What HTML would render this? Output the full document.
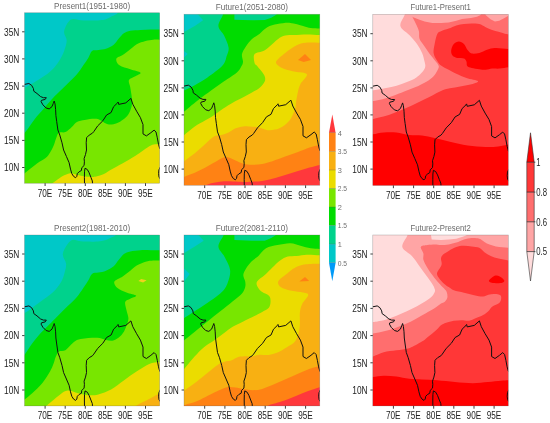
<!DOCTYPE html>
<html lang="en"><head><meta charset="utf-8"><title>Temperature change maps</title>
<style>
html,body{margin:0;padding:0;background:#fff;}
body{width:550px;height:423px;overflow:hidden;}
svg{display:block;}
text{font-family:"Liberation Sans",sans-serif;}
.t{font-size:10.4px;fill:#222;}
.x{font-size:11.3px;}
.h{font-size:9px;fill:#6a6a6a;}
.s{font-size:7.4px;fill:#707070;}
.r{font-size:10.2px;fill:#222;}
</style></head><body>
<svg width="550" height="423" viewBox="0 0 550 423">
<defs><clipPath id="c1"><rect x="22.0" y="10.0" width="140.0" height="175.0"/></clipPath><clipPath id="c2"><rect x="182.0" y="12.0" width="140.0" height="176.0"/></clipPath><clipPath id="c3"><rect x="370.0" y="12.0" width="140.0" height="176.0"/></clipPath><clipPath id="c4"><rect x="22.0" y="233.0" width="140.0" height="175.0"/></clipPath><clipPath id="c5"><rect x="182.0" y="233.0" width="140.0" height="175.0"/></clipPath><clipPath id="c6"><rect x="370.0" y="233.0" width="140.0" height="175.0"/></clipPath></defs>
<rect width="550" height="423" fill="#fff"/>
<g clip-path="url(#c1)">
<rect x="23.5" y="11.8" width="137.2" height="172.4" fill="#00c8c8"/>
<path d="M118.5,8.0C118.3,8.9 118.5,12.0 117.5,13.3C116.5,14.7 114.3,15.1 112.4,16.1C110.5,17.1 108.1,18.6 106.0,19.3C103.9,20.0 102.0,20.0 99.7,20.2C97.4,20.4 95.2,20.6 92.0,20.6C88.8,20.6 84.3,20.4 80.7,20.2C77.1,20.0 73.3,17.8 70.5,19.7C67.7,21.6 64.7,27.9 64.1,31.4C63.5,34.9 66.7,37.1 66.7,40.4C66.7,43.6 65.2,47.8 64.1,50.9C63.0,54.0 62.0,56.1 60.3,58.9C58.6,61.7 56.4,65.1 53.9,67.9C51.4,70.7 48.0,73.3 45.0,75.5C42.0,77.7 38.8,79.6 36.0,81.3C33.2,83.0 30.3,84.7 28.4,85.8C26.5,86.9 26.3,87.0 24.6,87.7C22.9,88.4 19.1,89.6 18.0,90.0L18.5,189.2L165.7,189.2L165.7,6.8Z" fill="#00d28c"/>
<path d="M166.0,29.5C164.9,29.5 162.2,29.5 159.7,29.5C157.1,29.5 153.9,29.4 150.7,29.5C147.5,29.6 143.9,29.7 140.5,29.9C137.1,30.1 133.1,30.2 130.3,30.8C127.5,31.4 125.8,32.0 123.9,33.3C122.0,34.6 120.5,36.6 118.8,38.5C117.1,40.4 115.8,43.1 113.7,44.8C111.6,46.5 108.5,47.8 106.0,48.7C103.5,49.6 100.7,49.6 98.4,50.0C96.1,50.4 93.7,49.7 92.0,51.0C90.3,52.3 89.9,55.3 88.4,57.7C87.0,60.1 85.2,62.5 83.3,65.3C81.4,68.1 79.5,71.3 76.9,74.3C74.4,77.3 71.0,80.2 68.0,83.2C65.0,86.2 61.8,89.3 59.0,92.1C56.2,94.9 53.9,97.0 51.4,99.8C48.9,102.6 46.5,105.5 43.7,108.7C40.9,111.9 37.5,115.5 34.8,118.9C32.1,122.3 29.4,126.8 27.7,129.1C26.0,131.4 26.2,131.0 24.6,133.0C23.0,135.0 19.1,139.7 18.0,141.0L18.5,189.2L165.7,189.2Z" fill="#00dc00"/>
<path d="M166.0,39.7C164.9,39.7 161.8,39.7 159.7,39.7C157.6,39.7 155.7,39.5 153.3,39.7C151.0,39.9 148.4,40.2 145.6,41.0C142.8,41.8 139.2,42.8 136.7,44.2C134.1,45.6 132.6,47.5 130.3,49.3C128.0,51.1 125.0,53.5 122.7,55.1C120.4,56.7 116.8,57.2 116.3,58.9C115.8,60.6 117.2,63.6 119.5,65.3C121.8,67.0 126.8,68.0 130.3,69.2C133.8,70.4 139.7,71.5 140.5,72.7C141.3,73.9 137.3,75.0 135.4,76.2C133.5,77.4 129.9,78.2 129.0,80.0C128.1,81.8 129.8,84.5 130.2,87.0C130.6,89.5 131.2,92.7 131.5,95.0C131.8,97.3 132.1,99.0 132.1,101.0C132.1,103.0 132.1,104.5 131.5,106.7C130.9,108.9 129.7,112.3 128.3,114.4C126.9,116.5 125.1,118.0 123.2,119.5C121.3,121.0 118.9,122.5 116.8,123.3C114.7,124.1 112.3,124.6 110.4,124.6C108.5,124.6 106.8,123.9 105.3,123.3C103.8,122.7 103.0,121.5 101.5,120.8C100.0,120.0 98.3,119.1 96.4,118.8C94.5,118.5 92.0,118.8 90.0,119.0C88.0,119.2 86.8,119.5 84.6,120.0C82.4,120.5 79.0,120.7 76.9,121.9C74.8,123.1 73.7,125.3 71.8,127.0C69.9,128.7 67.5,131.2 65.4,132.1C63.3,133.0 60.5,131.8 59.0,132.7C57.5,133.5 57.4,135.2 56.5,137.2C55.6,139.2 55.0,142.3 53.9,144.9C52.8,147.5 51.5,150.3 50.1,152.5C48.7,154.7 47.8,156.2 45.6,158.0C43.4,159.8 40.4,161.0 37.0,163.5C33.6,166.0 28.2,170.6 25.0,173.0C21.8,175.4 19.2,177.2 18.0,178.0L18.5,189.2L165.7,189.2Z" fill="#78e600"/>
<path d="M166.0,143.5C164.9,143.6 162.1,143.9 159.6,144.2C157.1,144.5 154.9,143.5 150.9,145.4C146.9,147.3 140.2,152.7 135.5,155.7C130.8,158.7 127.0,160.9 122.8,163.3C118.5,165.7 113.2,168.5 110.0,170.3C106.8,172.1 106.2,173.1 103.9,174.1C101.6,175.1 98.3,176.1 96.2,176.6C94.1,177.1 93.4,177.1 91.1,177.0C88.8,176.9 84.9,176.5 82.1,176.0C79.3,175.5 76.6,174.5 74.5,174.1C72.4,173.7 71.1,173.2 69.4,173.4C67.7,173.6 66.2,174.3 64.3,175.3C62.4,176.3 59.8,177.9 57.9,179.2C56.0,180.5 54.3,181.9 52.8,183.0C51.3,184.1 49.6,185.5 49.0,186.0L165.7,189.2Z" fill="#ebdc00"/>
<path d="M23.0,84.6L24.5,84.4L28.9,83.5L31.6,85.3L33.4,88.5L33.8,91.2L37.0,93.5L40.6,96.6L43.4,97.7L46.3,97.7L45.2,99.4L41.5,100.3L41.1,101.6L42.9,104.8L46.1,108.0L49.2,108.9L52.0,106.6L53.3,103.4L54.2,101.0L55.0,103.9L55.6,109.3L55.9,115.5L56.7,121.5L57.9,130.0L59.8,135.1L62.0,142.8L63.6,150.0L66.4,156.4L69.1,162.7L70.5,169.1L71.8,173.6L73.6,176.4L75.6,177.7L76.8,176.4L77.3,173.6L79.1,171.8L81.4,170.5L81.8,167.7L84.1,165.5L84.4,161.8L84.1,158.6L85.5,154.5L86.5,150.0L86.2,142.8L86.6,137.7L89.2,135.1L92.4,133.2L93.8,131.6L97.7,125.9L102.8,120.8L106.6,115.0L111.1,112.5L113.6,106.7L117.5,102.9L118.1,102.0L118.7,104.4L125.8,102.9L130.9,98.4L132.8,104.2L136.6,111.2L140.4,117.6L143.0,124.6L143.0,133.9L146.4,135.9L150.9,132.7L154.1,130.1L156.0,132.0L157.3,137.8L158.5,144.2L159.7,148.6L161.0,150.0M84.5,184.5L84.4,177.3L84.5,171.8L85.0,168.2L87.3,169.5L89.1,172.7L90.9,177.3L92.3,180.9L92.6,184.5M160.2,167.0L158.9,170.0L158.6,173.5L159.0,177.0L160.2,179.0" fill="none" stroke="#101010" stroke-width="1.0" stroke-linejoin="round"/>
<path fill-rule="evenodd" fill="#fff" d="M15.5,3.8H168.7V192.2H15.5ZM24.5,12.8H159.7V183.2H24.5Z"/>
<rect x="24.5" y="12.8" width="135.2" height="170.4" fill="none" stroke="#666" stroke-width="0.5" opacity="0.55"/>
</g>
<g clip-path="url(#c2)">
<rect x="183.0" y="13.2" width="137.8" height="173.1" fill="#00d28c"/>
<polygon points="180.0,10.0 198.0,14.5 203.1,20.3 194.8,26.0 184.5,31.8 180.0,33.0" fill="#00c8c8"/>
<polygon points="183.0,50.3 187.7,54.1 183.0,58.6" fill="#00c8c8"/>
<path d="M223.0,8.0C223.0,9.1 223.7,11.8 222.9,14.8C222.1,17.8 218.2,22.5 218.4,26.0C218.6,29.5 222.4,32.0 224.1,35.6C225.8,39.2 228.2,44.4 228.6,47.8C229.0,51.2 227.7,53.1 226.7,56.1C225.7,59.1 225.7,62.0 222.5,65.6C219.3,69.2 212.1,74.2 207.5,77.5C202.9,80.8 198.6,83.1 194.8,85.2C191.0,87.3 187.3,89.0 184.5,90.3C181.7,91.6 179.1,92.5 178.0,93.0L178.0,191.3L325.8,191.3L325.8,8.2Z" fill="#00dc00"/>
<polygon points="234.4,13.0 234.4,19.7 252.0,20.3 264.8,19.9 271.2,17.7 276.3,14.8 277.0,13.0" fill="#00d28c"/>
<path d="M326.0,29.0C324.9,28.9 322.2,28.8 319.7,28.6C317.1,28.4 313.5,28.4 310.7,28.0C307.9,27.6 306.5,26.9 303.1,26.0C299.7,25.1 294.6,23.2 290.3,22.9C286.0,22.6 281.3,23.4 277.5,24.1C273.7,24.8 270.3,25.7 267.3,27.3C264.3,28.9 262.2,31.8 259.7,33.7C257.1,35.7 254.3,36.9 252.0,39.0C249.7,41.1 247.6,44.0 245.9,46.5C244.2,49.0 242.5,51.5 242.0,54.1C241.5,56.7 243.2,59.9 243.0,62.0C242.8,64.2 242.0,65.3 241.0,67.0C240.0,68.7 239.7,70.0 236.9,72.4C234.1,74.8 228.3,78.3 224.1,81.3C219.8,84.3 215.7,87.2 211.4,90.3C207.2,93.4 202.2,97.0 198.6,99.8C195.0,102.6 192.0,105.0 189.7,106.9C187.3,108.8 186.4,109.8 184.5,111.3C182.6,112.8 179.1,115.2 178.0,116.0L178.0,191.3L325.8,191.3Z" fill="#78e600"/>
<path d="M326.0,35.0C324.9,35.0 322.9,35.1 319.7,35.0C316.5,34.9 311.2,34.4 306.9,34.4C302.6,34.4 297.7,34.8 294.1,35.0C290.5,35.2 288.0,34.9 285.2,35.6C282.4,36.4 280.9,37.0 277.5,39.5C274.1,42.0 268.6,47.9 264.8,50.3C261.0,52.7 256.3,52.0 254.6,54.1C252.9,56.2 254.2,61.1 254.6,63.1C255.0,65.1 255.5,64.0 257.1,66.0C258.7,68.0 262.8,72.4 264.1,74.9C265.4,77.5 265.5,79.2 264.8,81.3C264.1,83.4 261.8,85.8 259.7,87.7C257.6,89.6 254.7,90.9 252.0,92.5C249.3,94.1 246.5,95.6 243.3,97.3C240.2,99.0 236.5,100.5 233.1,102.4C229.7,104.3 226.1,106.7 222.9,108.8C219.7,110.9 216.9,113.2 213.9,115.2C210.9,117.2 208.2,118.6 205.0,120.5C201.8,122.4 198.2,124.0 194.8,126.4C191.4,128.8 187.3,132.4 184.5,134.7C181.7,137.0 179.1,139.1 178.0,140.0L178.0,191.3L325.8,191.3Z" fill="#ebdc00"/>
<path d="M326.0,42.7C324.9,42.7 323.1,42.7 319.7,42.7C316.3,42.7 309.4,42.3 305.6,42.7C301.8,43.1 300.1,43.5 296.7,45.2C293.3,46.9 288.6,50.2 285.2,52.9C281.8,55.6 277.4,59.0 276.3,61.2C275.2,63.4 277.3,64.7 278.8,66.0C280.3,67.3 282.4,68.2 285.2,69.2C288.0,70.2 291.8,70.9 295.4,71.7C299.0,72.5 306.0,72.3 306.9,74.3C307.8,76.3 302.0,81.0 300.5,83.9C299.0,86.8 298.7,88.5 298.0,91.5C297.3,94.5 296.5,99.0 296.1,101.8C295.7,104.6 295.9,106.0 295.4,108.1C294.9,110.2 293.9,112.4 292.9,114.5C291.9,116.6 291.2,118.5 289.5,120.5C287.8,122.5 285.1,124.9 282.7,126.4C280.3,127.9 277.6,129.0 275.0,129.6C272.4,130.2 270.1,130.6 267.3,130.2C264.5,129.8 260.9,127.9 258.4,127.3C255.8,126.7 254.5,126.8 252.0,126.7C249.5,126.6 246.0,126.1 243.3,126.4C240.6,126.7 238.2,127.2 235.6,128.3C233.0,129.4 230.6,131.6 228.0,132.8C225.4,134.0 222.7,134.7 220.3,135.3C218.0,135.9 216.5,135.1 213.9,136.6C211.3,138.1 208.2,141.5 205.0,144.3C201.8,147.1 198.2,150.4 194.8,153.2C191.4,156.0 187.3,158.8 184.5,160.9C181.7,163.0 179.1,165.2 178.0,166.0L178.0,191.3L325.8,191.3Z" fill="#f8b012"/>
<polygon points="305.0,53.9 311.0,59.9 303.7,62.1 298.0,59.9" fill="#ff8214"/>
<path d="M178.0,180.0C179.1,179.5 181.7,178.0 184.5,176.8C187.3,175.6 191.4,174.3 194.8,172.8C198.2,171.3 201.6,169.6 205.0,167.8C208.4,166.0 212.2,163.8 215.2,162.1C218.2,160.4 220.6,158.4 222.9,157.7C225.2,157.0 227.2,157.2 229.3,157.7C231.4,158.2 233.3,159.5 235.6,160.5C237.9,161.5 240.6,163.0 243.3,163.7C246.0,164.4 248.8,164.6 252.0,164.7C255.2,164.8 258.8,164.6 262.2,164.0C265.6,163.4 268.6,162.4 272.4,161.2C276.2,160.0 280.9,158.1 285.2,156.6C289.5,155.1 293.9,153.4 298.0,151.9C302.1,150.4 305.9,148.6 309.5,147.4C313.1,146.2 316.9,145.6 319.7,144.9C322.4,144.2 324.9,143.7 326.0,143.5L325.8,191.3L178.0,191.3Z" fill="#ff8214"/>
<path d="M200.0,188.0C201.2,187.4 205.0,185.3 207.5,184.4C210.0,183.5 212.4,183.0 215.2,182.5C218.0,182.0 221.1,181.5 224.1,181.3C227.1,181.1 229.9,181.4 233.1,181.5C236.3,181.6 240.2,181.9 243.3,181.9C246.5,181.9 248.8,181.8 252.0,181.7C255.2,181.5 258.8,181.5 262.2,181.0C265.6,180.5 268.6,179.7 272.4,178.7C276.2,177.7 280.9,176.2 285.2,174.9C289.5,173.6 293.9,172.2 298.0,171.0C302.1,169.8 305.9,168.6 309.5,167.6C313.1,166.6 316.9,165.8 319.7,165.0C322.4,164.2 324.9,163.3 326.0,163.0L325.8,191.3Z" fill="#ff383c"/>
<path d="M182.5,86.3L184.0,86.1L188.4,85.2L191.1,87.0L192.9,90.2L193.3,92.9L196.6,95.2L200.2,98.3L203.0,99.4L205.9,99.4L204.8,101.2L201.1,102.1L200.7,103.4L202.5,106.6L205.7,109.8L208.8,110.7L211.6,108.4L212.9,105.2L213.8,102.8L214.6,105.7L215.2,111.1L215.5,117.3L216.3,123.3L217.5,131.9L219.5,137.0L221.7,144.7L223.3,152.0L226.1,158.4L228.8,164.7L230.2,171.1L231.5,175.7L233.3,178.5L235.3,179.8L236.5,178.5L237.0,175.7L238.8,173.9L241.2,172.5L241.6,169.7L243.9,167.5L244.2,163.8L243.9,160.6L245.3,156.5L246.3,152.0L246.0,144.7L246.4,139.6L249.0,137.0L252.2,135.1L253.6,133.5L257.5,127.8L262.6,122.6L266.5,116.8L271.0,114.3L273.5,108.5L277.4,104.7L278.0,103.8L278.6,106.2L285.7,104.7L290.9,100.2L292.8,106.0L296.6,113.0L300.4,119.4L303.0,126.5L303.0,135.8L306.4,137.8L311.0,134.6L314.2,132.0L316.1,133.9L317.4,139.7L318.6,146.1L319.8,150.6L321.1,152.0M244.3,186.6L244.2,179.4L244.3,173.9L244.8,170.2L247.1,171.5L248.9,174.8L250.7,179.4L252.1,183.0L252.4,186.6M320.3,169.0L319.0,172.0L318.7,175.6L319.1,179.1L320.3,181.1" fill="none" stroke="#101010" stroke-width="1.0" stroke-linejoin="round"/>
<path fill-rule="evenodd" fill="#fff" d="M175.0,5.2H328.8V194.3H175.0ZM184.0,14.2H319.8V185.3H184.0Z"/>
<rect x="184.0" y="14.2" width="135.8" height="171.1" fill="none" stroke="#666" stroke-width="0.5" opacity="0.55"/>
</g>
<g clip-path="url(#c3)">
<rect x="371.8" y="13.3" width="137.5" height="173.1" fill="#ffdcdc"/>
<path d="M405.0,8.0C405.0,9.1 405.6,11.6 404.8,14.6C404.0,17.6 399.6,22.6 400.4,26.0C401.1,29.4 406.5,32.0 409.3,35.0C412.1,38.0 414.9,40.9 417.0,43.9C419.1,46.9 420.8,49.9 422.1,52.9C423.4,55.9 424.1,59.6 424.6,61.8C425.1,64.0 425.4,64.7 425.3,66.0C425.2,67.3 425.0,68.3 424.0,69.8C423.0,71.3 421.5,73.2 419.5,74.9C417.5,76.6 414.9,78.5 411.9,80.0C408.9,81.5 405.1,82.7 401.7,83.9C398.3,85.1 394.8,86.2 391.4,87.1C388.0,87.9 384.2,88.5 381.2,89.0C378.2,89.5 375.6,90.0 373.2,90.3C370.8,90.6 368.0,90.9 367.0,91.0L366.8,191.4L514.3,191.4L514.3,8.3Z" fill="#ffa5a5"/>
<path d="M412.5,17.1C413.0,18.2 414.6,21.1 415.7,23.5C416.8,25.9 418.3,28.6 418.9,31.2C419.5,33.8 418.6,36.2 419.5,38.8C420.4,41.3 422.9,44.0 424.6,46.5C426.3,49.0 428.0,51.8 429.7,54.1C431.4,56.4 433.4,58.5 434.9,60.5C436.4,62.5 438.3,64.3 438.7,66.0C439.1,67.7 438.2,68.8 437.4,70.5C436.5,72.2 435.5,74.3 433.6,76.2C431.7,78.1 428.9,80.2 425.9,82.0C422.9,83.8 419.3,85.5 415.7,87.1C412.1,88.7 408.0,90.0 404.2,91.5C400.4,93.0 396.3,94.7 392.7,96.0C389.1,97.3 385.8,98.4 382.5,99.2C379.2,100.0 375.8,100.6 373.2,101.1C370.6,101.6 368.0,101.8 367.0,102.0L366.8,191.4L514.3,191.4L514.3,8.3L412.5,8.0Z" fill="#ff6e6e"/>
<polygon points="404.0,8.0 412.5,17.1 419.5,19.7 424.6,21.6 432.3,22.9 441.0,22.9 448.7,22.5 456.3,20.8 462.0,19.0 470.9,18.1 477.0,16.8 480.7,15.0 482.0,8.0" fill="#ffa5a5"/>
<polygon points="484.0,8.0 485.6,15.0 490.5,19.2 494.9,21.4 499.3,20.8 503.6,18.6 508.0,15.9 514.0,12.5 514.0,8.0" fill="#ffa5a5"/>
<path d="M514.0,34.6C513.0,34.5 509.8,34.4 508.3,34.3C506.8,34.1 506.5,34.1 504.9,33.7C503.3,33.3 500.6,32.4 498.5,31.8C496.4,31.2 494.2,30.6 492.1,29.9C490.0,29.1 487.8,28.3 485.7,27.3C483.6,26.3 481.6,24.7 479.3,24.1C477.0,23.5 474.2,23.5 471.7,23.5C469.1,23.5 466.6,23.8 464.0,24.1C461.4,24.4 458.9,24.6 456.3,25.4C453.8,26.1 451.2,27.6 448.7,28.6C446.1,29.6 442.9,30.3 441.0,31.2C439.1,32.0 438.4,31.8 437.4,33.7C436.4,35.6 435.5,39.5 434.9,42.7C434.3,45.9 433.2,49.9 433.6,52.9C434.0,55.9 435.8,58.4 437.0,60.5C438.2,62.6 439.1,64.0 441.0,65.5C442.9,67.0 446.1,68.4 448.7,69.8C451.2,71.2 453.3,72.3 456.3,73.7C459.3,75.1 462.9,76.8 466.5,78.1C470.1,79.4 477.4,80.2 478.0,81.3C478.6,82.4 473.4,83.7 470.4,84.5C467.4,85.3 463.6,85.8 460.2,86.4C456.8,87.0 453.1,87.5 449.9,88.3C446.7,89.0 443.9,89.7 441.0,90.9C438.1,92.1 435.4,93.8 432.3,95.4C429.2,97.0 425.5,98.8 422.1,100.5C418.7,102.2 415.3,104.0 411.9,105.6C408.5,107.2 405.1,108.7 401.7,110.1C398.3,111.5 394.8,112.7 391.4,113.9C388.0,115.1 384.2,116.2 381.2,117.1C378.2,117.9 375.6,118.4 373.2,119.0C370.8,119.6 368.0,120.2 367.0,120.5L366.8,191.4L514.3,191.4Z" fill="#ff3737"/>
<path d="M514.0,49.0C513.0,49.0 510.2,49.1 508.3,49.0C506.4,48.9 504.6,48.6 502.3,48.4C500.0,48.2 497.2,47.8 494.6,48.0C492.1,48.2 489.6,48.9 487.0,49.7C484.4,50.5 481.9,52.3 479.3,52.9C476.8,53.5 473.6,53.9 471.7,53.5C469.8,53.1 469.1,51.9 467.8,50.3C466.5,48.7 465.5,45.4 464.0,43.9C462.5,42.4 460.6,41.4 458.9,41.4C457.2,41.4 455.1,42.4 453.8,43.9C452.5,45.4 451.4,48.4 451.2,50.3C451.0,52.2 451.4,54.1 452.5,55.4C453.6,56.7 455.7,57.5 457.6,58.0C459.5,58.5 462.5,58.0 464.0,58.6C465.5,59.2 466.0,60.6 466.5,61.8C467.0,63.0 466.3,65.0 467.2,66.0C468.1,67.0 469.7,67.4 471.7,67.9C473.7,68.4 477.0,68.9 479.3,69.2C481.6,69.5 483.6,69.9 485.7,69.8C487.8,69.7 489.8,68.8 492.1,68.6C494.4,68.4 497.0,68.8 499.7,68.6C502.4,68.4 505.9,67.6 508.3,67.3C510.7,67.0 513.0,66.6 514.0,66.5Z" fill="#ff0000"/>
<path d="M367.0,135.0C368.0,134.9 370.2,134.6 373.0,134.2C375.8,133.8 379.8,132.7 383.7,132.4C387.6,132.1 392.1,132.0 396.4,132.4C400.6,132.8 404.9,134.4 409.2,134.9C413.4,135.4 417.7,134.9 421.9,135.4C426.1,135.9 429.9,136.9 434.6,138.0C439.3,139.1 444.4,140.5 449.9,141.8C455.4,143.1 461.8,144.8 467.7,145.6C473.6,146.4 480.4,146.8 485.5,146.9C490.6,147.0 494.4,146.8 498.2,146.4C502.0,146.0 505.8,145.0 508.4,144.4C511.0,143.8 513.1,143.2 514.0,143.0L514.3,191.4L366.8,191.4Z" fill="#ff0000"/>
<path d="M371.3,86.4L372.8,86.2L377.2,85.3L379.9,87.1L381.7,90.3L382.1,93.0L385.3,95.3L388.9,98.4L391.7,99.5L394.6,99.5L393.5,101.3L389.8,102.2L389.4,103.5L391.2,106.7L394.4,109.9L397.6,110.8L400.4,108.5L401.7,105.3L402.6,102.9L403.4,105.8L404.0,111.2L404.3,117.4L405.1,123.4L406.3,132.0L408.2,137.1L410.4,144.8L412.0,152.1L414.8,158.5L417.5,164.8L418.9,171.2L420.2,175.8L422.0,178.6L424.0,179.9L425.2,178.6L425.7,175.8L427.5,174.0L429.8,172.6L430.2,169.8L432.5,167.6L432.8,163.9L432.5,160.7L433.9,156.6L434.9,152.1L434.6,144.8L435.0,139.7L437.6,137.1L440.9,135.2L442.3,133.6L446.2,127.9L451.3,122.7L455.1,116.9L459.6,114.4L462.1,108.6L466.0,104.8L466.6,103.9L467.2,106.3L474.3,104.8L479.4,100.3L481.3,106.1L485.1,113.1L489.0,119.5L491.6,126.6L491.6,135.9L495.0,137.9L499.5,134.7L502.7,132.1L504.6,134.0L505.9,139.8L507.1,146.2L508.3,150.7L509.6,152.1M432.9,186.7L432.8,179.5L432.9,174.0L433.4,170.3L435.7,171.6L437.5,174.9L439.3,179.5L440.8,183.1L441.1,186.7M508.8,169.1L507.5,172.1L507.2,175.7L507.6,179.2L508.8,181.2" fill="none" stroke="#101010" stroke-width="1.0" stroke-linejoin="round"/>
<path fill-rule="evenodd" fill="#fff" d="M363.8,5.3H517.3V194.4H363.8ZM372.8,14.3H508.3V185.4H372.8Z"/>
<rect x="372.8" y="14.3" width="135.5" height="171.1" fill="none" stroke="#666" stroke-width="0.5" opacity="0.55"/>
</g>
<g clip-path="url(#c4)">
<rect x="23.5" y="234.0" width="137.2" height="172.9" fill="#00c8c8"/>
<path d="M116.5,229.0C116.3,230.0 116.5,233.8 115.6,235.2C114.7,236.6 112.8,236.7 111.2,237.5C109.6,238.3 107.9,239.4 106.0,240.0C104.1,240.6 102.0,241.0 99.7,241.3C97.4,241.6 95.2,241.7 92.0,241.7C88.8,241.7 84.2,241.5 80.7,241.3C77.2,241.1 74.0,238.5 71.0,240.5C68.0,242.5 63.7,249.5 62.9,253.4C62.1,257.3 65.8,260.4 66.1,263.7C66.4,267.0 65.2,270.1 64.5,273.0C63.8,275.9 63.1,278.1 61.6,280.9C60.1,283.7 57.8,287.1 55.2,289.9C52.7,292.7 49.3,295.2 46.3,297.5C43.3,299.8 40.1,301.9 37.3,303.9C34.5,305.9 31.8,308.2 29.7,309.7C27.6,311.2 26.6,311.7 24.6,312.9C22.7,314.1 19.1,316.3 18.0,317.0L18.5,411.9L165.7,411.9L165.7,229.0Z" fill="#00d28c"/>
<path d="M166.0,250.2C164.9,250.2 162.2,250.2 159.7,250.2C157.1,250.2 153.9,250.2 150.7,250.2C147.5,250.2 143.9,250.0 140.5,250.2C137.1,250.4 133.1,250.8 130.3,251.5C127.5,252.2 125.8,252.7 123.9,254.1C122.0,255.5 120.5,257.8 118.8,259.8C117.1,261.8 115.8,264.4 113.7,266.2C111.6,268.0 108.5,269.6 106.0,270.7C103.5,271.8 100.7,272.1 98.4,272.6C96.1,273.1 93.7,272.6 92.0,273.9C90.3,275.2 89.9,277.9 88.4,280.3C87.0,282.7 85.2,285.2 83.3,288.0C81.4,290.8 79.5,293.9 76.9,296.9C74.4,299.9 71.0,302.8 68.0,305.8C65.0,308.8 61.8,312.0 59.0,314.8C56.2,317.6 53.9,319.9 51.4,322.4C48.9,324.8 46.6,327.1 44.3,329.5C41.9,331.9 39.5,334.3 37.3,336.9C35.1,339.5 33.0,342.2 30.9,345.2C28.8,348.2 26.8,351.4 24.6,354.7C22.5,358.0 19.1,363.3 18.0,365.0L18.5,411.9L165.7,411.9Z" fill="#00dc00"/>
<path d="M166.0,260.5C164.9,260.5 161.8,260.5 159.7,260.5C157.6,260.5 155.7,260.3 153.3,260.5C151.0,260.7 148.4,260.8 145.6,261.7C142.8,262.6 139.2,264.1 136.7,265.6C134.1,267.1 132.6,268.9 130.3,270.7C128.0,272.5 125.4,274.6 122.7,276.4C120.0,278.2 115.3,279.7 114.4,281.6C113.5,283.5 115.5,286.2 117.5,288.0C119.5,289.8 123.4,291.1 126.5,292.4C129.6,293.7 135.5,294.5 136.1,295.6C136.7,296.7 132.1,297.7 130.3,298.8C128.5,299.9 125.8,300.1 125.2,302.0C124.6,303.9 126.0,307.6 126.5,310.3C127.0,313.0 128.3,315.7 128.4,318.0C128.5,320.3 127.8,321.7 127.1,324.0C126.3,326.3 125.3,329.4 123.9,331.7C122.5,333.9 120.7,336.0 118.8,337.5C116.9,339.0 114.5,340.3 112.4,340.7C110.3,341.1 108.1,340.4 106.0,340.0C103.9,339.6 102.0,338.5 99.7,338.1C97.4,337.7 94.5,337.7 92.0,337.8C89.5,337.9 87.1,338.1 84.6,338.5C82.1,338.9 79.1,339.0 76.9,340.0C74.7,341.0 73.1,342.8 71.2,344.5C69.3,346.2 67.4,349.1 65.4,350.3C63.4,351.5 60.6,350.4 59.0,351.5C57.4,352.6 56.8,354.6 55.8,356.7C54.8,358.8 54.3,361.8 53.3,364.3C52.3,366.8 51.8,368.4 50.0,371.5C48.2,374.6 45.4,379.4 42.4,383.0C39.4,386.6 35.2,390.4 32.2,393.2C29.2,395.9 26.9,397.7 24.5,399.5C22.1,401.3 19.1,403.2 18.0,404.0L18.5,411.9L165.7,411.9Z" fill="#78e600"/>
<polygon points="138.4,281.0 141.2,278.9 146.6,280.3 143.1,282.4" fill="#f0d21e"/>
<path d="M166.0,361.0C164.9,361.2 162.2,361.5 159.4,362.0C156.6,362.5 153.0,362.3 149.2,363.9C145.4,365.5 140.7,368.8 136.5,371.5C132.3,374.2 128.0,377.4 123.8,380.4C119.6,383.4 115.3,387.1 111.1,389.4C106.8,391.7 102.1,393.4 98.3,394.4C94.5,395.4 91.6,395.4 88.2,395.2C84.8,395.0 81.4,394.0 78.0,393.2C74.6,392.4 70.8,390.4 67.8,390.6C64.8,390.8 62.8,392.7 60.2,394.4C57.7,396.1 54.8,398.9 52.5,400.8C50.2,402.7 48.0,404.4 46.2,405.9C44.5,407.4 42.7,409.3 42.0,410.0L165.7,411.9Z" fill="#ebdc00"/>
<path d="M166.0,392.0C164.9,392.2 162.4,392.3 159.7,393.4C157.0,394.5 153.1,396.9 150.0,398.5C146.9,400.1 143.4,401.8 141.0,403.0C138.6,404.2 137.7,404.9 135.5,405.9C133.3,406.9 129.2,408.5 128.0,409.0L165.7,411.9Z" fill="#f8b012"/>
<path d="M23.0,307.0L24.5,306.8L28.9,305.9L31.6,307.7L33.4,310.9L33.8,313.6L37.0,315.9L40.6,319.0L43.4,320.1L46.3,320.1L45.2,321.9L41.5,322.8L41.1,324.1L42.9,327.3L46.1,330.5L49.2,331.4L52.0,329.1L53.3,325.9L54.2,323.5L55.0,326.4L55.6,331.8L55.9,338.0L56.7,344.0L57.9,352.5L59.8,357.7L62.0,365.4L63.6,372.6L66.4,379.0L69.1,385.3L70.5,391.8L71.8,396.3L73.6,399.1L75.6,400.4L76.8,399.1L77.3,396.3L79.1,394.5L81.4,393.2L81.8,390.4L84.1,388.1L84.4,384.4L84.1,381.2L85.5,377.1L86.5,372.6L86.2,365.4L86.6,360.3L89.2,357.7L92.4,355.8L93.8,354.1L97.7,348.4L102.8,343.3L106.6,337.5L111.1,335.0L113.6,329.2L117.5,325.4L118.1,324.5L118.7,326.9L125.8,325.4L130.9,320.9L132.8,326.7L136.6,333.7L140.4,340.1L143.0,347.1L143.0,356.5L146.4,358.5L150.9,355.3L154.1,352.6L156.0,354.5L157.3,360.4L158.5,366.8L159.7,371.2L161.0,372.6M84.5,407.2L84.4,400.0L84.5,394.5L85.0,390.9L87.3,392.2L89.1,395.4L90.9,400.0L92.3,403.6L92.6,407.2M160.2,389.7L158.9,392.7L158.6,396.2L159.0,399.7L160.2,401.7" fill="none" stroke="#101010" stroke-width="1.0" stroke-linejoin="round"/>
<path fill-rule="evenodd" fill="#fff" d="M15.5,226.0H168.7V414.9H15.5ZM24.5,235.0H159.7V405.9H24.5Z"/>
<rect x="24.5" y="235.0" width="135.2" height="170.9" fill="none" stroke="#666" stroke-width="0.5" opacity="0.55"/>
</g>
<g clip-path="url(#c5)">
<rect x="183.0" y="234.0" width="137.8" height="172.9" fill="#00d28c"/>
<polygon points="180.0,232.0 198.6,235.2 203.7,240.7 194.8,246.4 184.5,252.8 180.0,254.0" fill="#00c8c8"/>
<polygon points="183.0,267.5 189.7,273.9 183.0,282.8" fill="#00c8c8"/>
<path d="M223.7,229.0C223.7,230.0 224.4,232.3 223.5,235.2C222.6,238.1 218.3,242.9 218.4,246.4C218.5,249.9 222.3,252.6 224.1,256.0C225.9,259.4 228.3,263.6 229.3,266.8C230.3,270.0 230.4,271.8 229.9,275.1C229.4,278.4 227.7,283.6 226.1,286.6C224.5,289.7 223.0,291.0 220.3,293.4C217.6,295.8 213.7,298.4 210.1,301.0C206.5,303.6 202.0,306.4 198.6,308.7C195.2,310.9 192.0,313.0 189.7,314.5C187.3,316.0 186.4,316.5 184.5,317.7C182.6,318.9 179.1,320.9 178.0,321.5L178.0,411.9L325.8,411.9L325.8,229.0Z" fill="#00dc00"/>
<polygon points="234.4,233.0 234.4,240.0 252.0,240.7 264.8,240.7 271.2,238.1 275.6,235.2 276.5,233.0" fill="#00d28c"/>
<path d="M326.0,249.0C324.9,249.0 322.2,249.1 319.7,249.0C317.1,248.9 313.9,248.8 310.7,248.3C307.5,247.8 303.9,246.7 300.5,245.8C297.1,245.0 294.1,243.3 290.3,243.2C286.5,243.1 281.6,244.2 277.5,245.1C273.4,245.9 269.2,246.5 266.0,248.3C262.8,250.1 260.7,253.9 258.4,256.0C256.1,258.1 254.1,258.9 252.0,261.0C249.9,263.1 247.3,266.4 245.9,268.8C244.5,271.2 243.4,273.0 243.3,275.1C243.2,277.2 244.9,279.5 245.2,281.5C245.5,283.5 245.7,285.0 245.2,287.0C244.7,289.0 244.0,291.1 242.0,293.4C240.0,295.7 236.7,298.0 233.1,301.0C229.5,304.0 224.6,307.9 220.3,311.3C216.0,314.7 211.8,318.1 207.5,321.5C203.2,324.9 198.6,328.6 194.8,331.7C191.0,334.8 187.3,337.8 184.5,340.0C181.7,342.2 179.1,344.2 178.0,345.0L178.0,411.9L325.8,411.9Z" fill="#78e600"/>
<path d="M326.0,255.3C324.9,255.3 322.9,255.4 319.7,255.3C316.5,255.2 310.7,254.6 306.9,254.7C303.1,254.8 299.9,255.7 296.7,256.0C293.5,256.3 290.6,255.9 287.8,256.6C285.0,257.4 282.7,258.7 280.1,260.5C277.5,262.3 274.9,265.1 272.4,267.5C269.8,269.9 267.4,272.8 264.8,275.1C262.2,277.4 258.3,279.5 257.1,281.5C255.9,283.5 256.9,285.2 257.7,287.0C258.5,288.8 260.3,290.6 262.2,292.1C264.1,293.6 267.8,294.2 269.2,295.9C270.6,297.6 270.6,300.3 270.5,302.3C270.4,304.3 270.0,306.5 268.6,308.1C267.2,309.7 265.0,310.4 262.2,311.9C259.4,313.4 255.2,315.7 252.0,317.3C248.8,318.9 246.5,319.9 243.3,321.5C240.2,323.1 236.3,324.7 233.1,326.6C229.9,328.5 227.3,330.7 224.1,333.0C220.9,335.3 217.4,338.1 214.0,340.5C210.6,342.9 206.9,344.8 203.7,347.4C200.5,350.0 198.0,352.8 194.8,356.3C191.6,359.8 187.3,365.2 184.5,368.5C181.7,371.8 179.1,374.8 178.0,376.0L178.0,411.9L325.8,411.9Z" fill="#ebdc00"/>
<path d="M326.0,263.7C324.9,263.7 323.1,263.6 319.7,263.7C316.3,263.8 309.7,263.7 305.6,264.3C301.6,264.9 298.8,265.7 295.4,267.5C292.0,269.3 288.1,272.8 285.2,275.1C282.3,277.4 278.9,279.5 278.2,281.5C277.4,283.5 278.9,285.6 280.7,287.0C282.5,288.4 285.7,289.3 289.0,290.2C292.3,291.1 297.3,291.4 300.5,292.1C303.7,292.9 307.9,292.8 308.2,294.7C308.5,296.6 303.8,300.6 302.4,303.6C301.0,306.6 300.3,309.1 299.9,312.5C299.5,315.9 300.1,320.6 299.9,324.0C299.7,327.4 299.4,330.1 298.6,333.0C297.8,335.9 297.0,339.1 295.0,341.5C293.0,343.9 289.4,345.6 286.5,347.4C283.6,349.2 280.5,351.2 277.5,352.5C274.5,353.8 271.6,354.6 268.6,355.0C265.6,355.4 262.5,354.6 259.7,354.8C256.9,355.1 254.3,356.2 252.0,356.5C249.7,356.8 248.2,356.2 245.9,356.3C243.6,356.4 240.5,356.4 238.2,357.0C235.8,357.6 233.9,359.5 231.8,360.2C229.7,360.9 227.5,360.8 225.4,361.4C223.3,362.0 221.3,362.6 219.0,364.0C216.7,365.4 214.4,367.4 211.4,369.7C208.4,372.0 204.4,375.4 201.2,378.0C198.0,380.6 195.0,383.1 192.2,385.1C189.4,387.1 186.9,388.7 184.5,390.2C182.1,391.7 179.1,393.4 178.0,394.0L178.0,411.9L325.8,411.9Z" fill="#f8b012"/>
<polygon points="305.0,277.1 309.2,281.1 299.3,281.5" fill="#ff8214"/>
<path d="M178.0,407.0C179.1,406.6 181.5,405.9 184.7,404.9C187.9,403.9 193.4,402.7 197.3,401.1C201.2,399.6 204.6,397.4 208.2,395.6C211.8,393.8 215.8,391.6 219.1,390.2C222.4,388.8 225.2,387.4 228.0,387.0C230.8,386.6 233.0,387.3 235.6,387.6C238.2,387.9 240.4,388.6 243.3,389.0C246.2,389.4 249.8,390.2 253.0,390.2C256.1,390.2 259.0,389.8 262.2,388.9C265.4,388.0 269.0,386.5 272.4,385.1C275.8,383.7 279.1,382.2 282.7,380.6C286.3,379.0 290.3,377.2 294.1,375.5C297.9,373.8 301.3,372.0 305.6,370.4C309.9,368.8 316.3,366.9 319.7,365.8C323.1,364.7 324.9,363.9 326.0,363.5L325.8,411.9L178.0,411.9Z" fill="#ff8214"/>
<path d="M262.0,409.0C263.1,408.4 264.9,406.8 268.5,405.4C272.1,404.0 279.1,402.4 283.8,400.8C288.5,399.2 292.4,397.3 296.5,395.7C300.6,394.1 304.3,392.4 308.2,391.0C312.1,389.6 316.7,388.2 319.7,387.2C322.7,386.2 324.9,385.4 326.0,385.0L325.8,411.9Z" fill="#ff383c"/>
<path d="M182.5,307.0L184.0,306.8L188.4,305.9L191.1,307.7L192.9,310.9L193.3,313.6L196.6,315.9L200.2,319.0L203.0,320.1L205.9,320.1L204.8,321.9L201.1,322.8L200.7,324.1L202.5,327.3L205.7,330.5L208.8,331.4L211.6,329.1L212.9,325.9L213.8,323.5L214.6,326.4L215.2,331.8L215.5,338.0L216.3,344.0L217.5,352.5L219.5,357.7L221.7,365.4L223.3,372.6L226.1,379.0L228.8,385.3L230.2,391.8L231.5,396.3L233.3,399.1L235.3,400.4L236.5,399.1L237.0,396.3L238.8,394.5L241.2,393.2L241.6,390.4L243.9,388.1L244.2,384.4L243.9,381.2L245.3,377.1L246.3,372.6L246.0,365.4L246.4,360.3L249.0,357.7L252.2,355.8L253.6,354.1L257.5,348.4L262.6,343.3L266.5,337.5L271.0,335.0L273.5,329.2L277.4,325.4L278.0,324.5L278.6,326.9L285.7,325.4L290.9,320.9L292.8,326.7L296.6,333.7L300.4,340.1L303.0,347.1L303.0,356.5L306.4,358.5L311.0,355.3L314.2,352.6L316.1,354.5L317.4,360.4L318.6,366.8L319.8,371.2L321.1,372.6M244.3,407.2L244.2,400.0L244.3,394.5L244.8,390.9L247.1,392.2L248.9,395.4L250.7,400.0L252.1,403.6L252.4,407.2M320.3,389.7L319.0,392.7L318.7,396.2L319.1,399.7L320.3,401.7" fill="none" stroke="#101010" stroke-width="1.0" stroke-linejoin="round"/>
<path fill-rule="evenodd" fill="#fff" d="M175.0,226.0H328.8V414.9H175.0ZM184.0,235.0H319.8V405.9H184.0Z"/>
<rect x="184.0" y="235.0" width="135.8" height="170.9" fill="none" stroke="#666" stroke-width="0.5" opacity="0.55"/>
</g>
<g clip-path="url(#c6)">
<rect x="371.8" y="234.0" width="137.5" height="172.9" fill="#ffdcdc"/>
<path d="M407.5,229.0C407.5,230.0 408.3,232.2 407.4,235.2C406.5,238.2 401.6,243.5 402.3,247.0C403.1,250.5 409.0,252.8 411.9,256.0C414.8,259.2 417.2,263.0 419.5,266.2C421.8,269.4 423.8,272.1 425.9,275.1C428.0,278.1 430.9,281.9 432.3,284.1C433.7,286.3 434.1,287.3 434.5,288.5C434.9,289.7 435.3,290.3 434.9,291.5C434.5,292.7 433.8,294.3 432.3,295.9C430.8,297.5 428.4,299.3 425.9,301.0C423.3,302.7 420.2,304.5 417.0,306.2C413.8,307.9 410.2,309.7 406.8,311.3C403.4,312.9 399.9,314.3 396.5,315.7C393.1,317.1 389.5,318.6 386.3,319.6C383.1,320.6 379.6,321.1 377.4,321.5C375.2,321.9 374.9,321.9 373.2,322.1C371.5,322.4 368.0,322.9 367.0,323.0L366.8,411.9L514.3,411.9L514.3,229.0Z" fill="#ffa5a5"/>
<polygon points="431.0,229.0 431.0,235.2 431.7,239.4 441.0,240.0 448.7,239.6 456.3,238.7 462.7,236.8 466.5,235.2 467.0,229.0" fill="#ffdcdc"/>
<path d="M514.0,248.0C513.0,247.9 510.2,247.8 508.3,247.7C506.4,247.6 504.4,247.5 502.3,247.3C500.2,247.1 498.0,246.9 495.9,246.4C493.8,245.9 491.4,245.2 489.5,244.5C487.6,243.8 486.1,242.9 484.4,241.9C482.7,240.9 481.4,239.3 479.3,238.7C477.2,238.1 474.2,238.0 471.7,238.1C469.1,238.2 466.6,238.7 464.0,239.4C461.4,240.2 458.9,241.8 456.3,242.6C453.8,243.4 451.2,244.1 448.7,244.5C446.1,244.9 443.3,245.1 441.0,245.1C438.7,245.1 437.2,244.5 434.9,244.5C432.6,244.5 429.5,244.7 427.2,245.1C424.9,245.5 421.4,245.6 420.8,247.0C420.2,248.4 423.0,251.3 423.4,253.4C423.8,255.5 422.8,257.4 423.4,259.8C424.0,262.2 425.7,264.9 427.2,267.5C428.7,270.1 430.6,272.8 432.3,275.1C434.0,277.4 435.9,279.8 437.4,281.5C438.8,283.2 439.6,283.8 441.0,285.4C442.4,286.9 445.0,288.8 446.1,290.8C447.2,292.8 447.6,295.4 447.4,297.2C447.2,299.0 445.9,300.6 444.8,301.7C443.7,302.8 442.6,302.5 441.0,303.6C439.4,304.7 437.4,306.5 434.9,308.1C432.4,309.7 429.1,311.4 425.9,313.2C422.7,315.0 419.1,317.1 415.7,318.9C412.3,320.7 408.9,322.5 405.5,324.0C402.1,325.5 398.7,326.7 395.3,327.9C391.9,329.1 388.7,330.2 385.0,331.1C381.3,332.1 376.2,333.0 373.2,333.6C370.2,334.2 368.0,334.4 367.0,334.5L366.8,411.9L514.3,411.9Z" fill="#ff6e6e"/>
<path d="M514.0,261.5C513.0,261.3 510.9,261.0 508.3,260.5C505.7,260.0 501.4,259.2 498.5,258.5C495.6,257.8 493.2,257.1 490.8,256.0C488.4,254.9 486.3,253.6 484.4,252.2C482.5,250.8 481.4,248.7 479.3,247.7C477.2,246.7 474.4,246.7 471.7,246.4C469.0,246.1 466.0,245.7 463.4,245.8C460.8,245.9 458.8,246.2 456.3,247.0C453.9,247.8 450.9,249.6 448.7,250.9C446.5,252.2 444.2,253.4 442.9,254.7C441.6,256.0 441.2,256.8 441.0,258.5C440.8,260.2 442.2,262.5 441.5,265.0C440.8,267.5 437.2,271.1 437.0,273.5C436.8,275.9 438.7,277.7 440.0,279.5C441.3,281.3 443.6,283.2 445.0,284.5C446.4,285.8 447.2,286.1 448.7,287.0C450.2,287.9 451.2,289.2 453.8,290.2C456.4,291.1 460.6,291.8 464.0,292.7C467.4,293.6 471.0,294.6 474.2,295.3C477.4,296.0 480.8,296.7 483.1,296.6C485.5,296.5 486.4,295.1 488.3,294.7C490.2,294.3 492.6,293.9 494.6,294.0C496.6,294.1 499.3,294.3 500.4,295.3C501.5,296.3 501.3,298.4 501.0,299.8C500.7,301.2 500.0,302.4 498.5,303.6C497.0,304.8 493.8,305.5 492.1,306.8C490.4,308.1 489.8,309.9 488.3,311.3C486.8,312.7 485.2,313.9 483.1,315.1C481.0,316.3 477.8,317.4 475.5,318.3C473.2,319.2 471.5,320.5 469.1,320.8C466.8,321.1 463.9,320.2 461.4,320.2C458.8,320.2 456.4,320.4 453.8,320.8C451.2,321.2 448.2,322.1 446.1,322.8C444.0,323.6 442.4,324.2 441.0,325.3C439.6,326.4 438.8,327.7 437.4,329.1C435.9,330.5 434.0,332.2 432.3,333.6C430.6,335.0 428.9,336.1 427.2,337.4C425.5,338.7 424.9,339.8 421.9,341.6C418.9,343.4 413.4,346.8 409.2,348.2C404.9,349.6 400.6,349.6 396.4,350.3C392.1,351.0 387.6,351.2 383.7,352.3C379.8,353.4 375.8,355.5 373.0,356.6C370.2,357.7 368.0,358.6 367.0,359.0L366.8,411.9L514.3,411.9Z" fill="#ff3737"/>
<path d="M488.9,280.9C488.9,279.7 492.8,276.6 494.6,275.8C496.4,275.1 498.1,275.6 499.7,276.4C501.3,277.1 503.8,279.2 504.2,280.3C504.6,281.4 503.9,282.3 502.3,282.8C500.7,283.3 496.8,283.4 494.6,283.1C492.4,282.8 488.9,282.1 488.9,280.9Z" fill="#ff0000"/>
<path d="M367.0,377.5C368.0,377.4 370.2,377.3 373.0,377.0C375.8,376.7 379.8,375.8 383.7,375.7C387.6,375.6 392.1,376.0 396.4,376.5C400.6,377.0 404.9,378.3 409.2,378.8C413.4,379.3 417.2,379.2 421.9,379.5C426.6,379.8 431.7,379.9 437.2,380.3C442.7,380.7 449.1,381.6 455.0,382.1C460.9,382.6 467.3,383.3 472.8,383.3C478.3,383.3 483.3,382.5 488.0,382.1C492.7,381.7 497.4,381.1 500.8,380.8C504.2,380.5 506.2,380.4 508.4,380.3C510.6,380.2 513.1,380.1 514.0,380.0L514.3,411.9L366.8,411.9Z" fill="#ff0000"/>
<path d="M371.3,307.0L372.8,306.8L377.2,305.9L379.9,307.7L381.7,310.9L382.1,313.6L385.3,315.9L388.9,319.0L391.7,320.1L394.6,320.1L393.5,321.9L389.8,322.8L389.4,324.1L391.2,327.3L394.4,330.5L397.6,331.4L400.4,329.1L401.7,325.9L402.6,323.5L403.4,326.4L404.0,331.8L404.3,338.0L405.1,344.0L406.3,352.5L408.2,357.7L410.4,365.4L412.0,372.6L414.8,379.0L417.5,385.3L418.9,391.8L420.2,396.3L422.0,399.1L424.0,400.4L425.2,399.1L425.7,396.3L427.5,394.5L429.8,393.2L430.2,390.4L432.5,388.1L432.8,384.4L432.5,381.2L433.9,377.1L434.9,372.6L434.6,365.4L435.0,360.3L437.6,357.7L440.9,355.8L442.3,354.1L446.2,348.4L451.3,343.3L455.1,337.5L459.6,335.0L462.1,329.2L466.0,325.4L466.6,324.5L467.2,326.9L474.3,325.4L479.4,320.9L481.3,326.7L485.1,333.7L489.0,340.1L491.6,347.1L491.6,356.5L495.0,358.5L499.5,355.3L502.7,352.6L504.6,354.5L505.9,360.4L507.1,366.8L508.3,371.2L509.6,372.6M432.9,407.2L432.8,400.0L432.9,394.5L433.4,390.9L435.7,392.2L437.5,395.4L439.3,400.0L440.8,403.6L441.1,407.2M508.8,389.7L507.5,392.7L507.2,396.2L507.6,399.7L508.8,401.7" fill="none" stroke="#101010" stroke-width="1.0" stroke-linejoin="round"/>
<path fill-rule="evenodd" fill="#fff" d="M363.8,226.0H517.3V414.9H363.8ZM372.8,235.0H508.3V405.9H372.8Z"/>
<rect x="372.8" y="235.0" width="135.5" height="170.9" fill="none" stroke="#666" stroke-width="0.5" opacity="0.55"/>
</g>
<line x1="45.1" y1="183.2" x2="45.1" y2="186.0" stroke="#2a2a2a" stroke-width="0.9"/>
<text x="45.0" y="196.7" text-anchor="middle" textLength="14.6" lengthAdjust="spacingAndGlyphs" class="t x">70E</text>
<line x1="65.2" y1="183.2" x2="65.2" y2="186.0" stroke="#2a2a2a" stroke-width="0.9"/>
<text x="65.1" y="196.7" text-anchor="middle" textLength="14.6" lengthAdjust="spacingAndGlyphs" class="t x">75E</text>
<line x1="85.3" y1="183.2" x2="85.3" y2="186.0" stroke="#2a2a2a" stroke-width="0.9"/>
<text x="85.2" y="196.7" text-anchor="middle" textLength="14.6" lengthAdjust="spacingAndGlyphs" class="t x">80E</text>
<line x1="105.4" y1="183.2" x2="105.4" y2="186.0" stroke="#2a2a2a" stroke-width="0.9"/>
<text x="105.3" y="196.7" text-anchor="middle" textLength="14.6" lengthAdjust="spacingAndGlyphs" class="t x">85E</text>
<line x1="125.4" y1="183.2" x2="125.4" y2="186.0" stroke="#2a2a2a" stroke-width="0.9"/>
<text x="125.3" y="196.7" text-anchor="middle" textLength="14.6" lengthAdjust="spacingAndGlyphs" class="t x">90E</text>
<line x1="145.5" y1="183.2" x2="145.5" y2="186.0" stroke="#2a2a2a" stroke-width="0.9"/>
<text x="145.4" y="196.7" text-anchor="middle" textLength="14.6" lengthAdjust="spacingAndGlyphs" class="t x">95E</text>
<line x1="22.1" y1="31.8" x2="24.5" y2="31.8" stroke="#2a2a2a" stroke-width="0.9"/>
<text x="19.3" y="35.5" text-anchor="end" textLength="15.3" lengthAdjust="spacingAndGlyphs" class="t">35N</text>
<line x1="22.1" y1="58.9" x2="24.5" y2="58.9" stroke="#2a2a2a" stroke-width="0.9"/>
<text x="19.3" y="62.6" text-anchor="end" textLength="15.3" lengthAdjust="spacingAndGlyphs" class="t">30N</text>
<line x1="22.1" y1="86.1" x2="24.5" y2="86.1" stroke="#2a2a2a" stroke-width="0.9"/>
<text x="19.3" y="89.8" text-anchor="end" textLength="15.3" lengthAdjust="spacingAndGlyphs" class="t">25N</text>
<line x1="22.1" y1="113.2" x2="24.5" y2="113.2" stroke="#2a2a2a" stroke-width="0.9"/>
<text x="19.3" y="116.9" text-anchor="end" textLength="15.3" lengthAdjust="spacingAndGlyphs" class="t">20N</text>
<line x1="22.1" y1="140.4" x2="24.5" y2="140.4" stroke="#2a2a2a" stroke-width="0.9"/>
<text x="19.3" y="144.1" text-anchor="end" textLength="15.3" lengthAdjust="spacingAndGlyphs" class="t">15N</text>
<line x1="22.1" y1="167.5" x2="24.5" y2="167.5" stroke="#2a2a2a" stroke-width="0.9"/>
<text x="19.3" y="171.2" text-anchor="end" textLength="15.3" lengthAdjust="spacingAndGlyphs" class="t">10N</text>
<line x1="204.7" y1="185.3" x2="204.7" y2="188.1" stroke="#2a2a2a" stroke-width="0.9"/>
<text x="204.6" y="198.8" text-anchor="middle" textLength="14.6" lengthAdjust="spacingAndGlyphs" class="t x">70E</text>
<line x1="224.9" y1="185.3" x2="224.9" y2="188.1" stroke="#2a2a2a" stroke-width="0.9"/>
<text x="224.8" y="198.8" text-anchor="middle" textLength="14.6" lengthAdjust="spacingAndGlyphs" class="t x">75E</text>
<line x1="245.0" y1="185.3" x2="245.0" y2="188.1" stroke="#2a2a2a" stroke-width="0.9"/>
<text x="244.9" y="198.8" text-anchor="middle" textLength="14.6" lengthAdjust="spacingAndGlyphs" class="t x">80E</text>
<line x1="265.2" y1="185.3" x2="265.2" y2="188.1" stroke="#2a2a2a" stroke-width="0.9"/>
<text x="265.1" y="198.8" text-anchor="middle" textLength="14.6" lengthAdjust="spacingAndGlyphs" class="t x">85E</text>
<line x1="285.4" y1="185.3" x2="285.4" y2="188.1" stroke="#2a2a2a" stroke-width="0.9"/>
<text x="285.3" y="198.8" text-anchor="middle" textLength="14.6" lengthAdjust="spacingAndGlyphs" class="t x">90E</text>
<line x1="305.6" y1="185.3" x2="305.6" y2="188.1" stroke="#2a2a2a" stroke-width="0.9"/>
<text x="305.5" y="198.8" text-anchor="middle" textLength="14.6" lengthAdjust="spacingAndGlyphs" class="t x">95E</text>
<line x1="181.6" y1="33.7" x2="184.0" y2="33.7" stroke="#2a2a2a" stroke-width="0.9"/>
<text x="178.8" y="37.4" text-anchor="end" textLength="15.3" lengthAdjust="spacingAndGlyphs" class="t">35N</text>
<line x1="181.6" y1="60.8" x2="184.0" y2="60.8" stroke="#2a2a2a" stroke-width="0.9"/>
<text x="178.8" y="64.5" text-anchor="end" textLength="15.3" lengthAdjust="spacingAndGlyphs" class="t">30N</text>
<line x1="181.6" y1="87.9" x2="184.0" y2="87.9" stroke="#2a2a2a" stroke-width="0.9"/>
<text x="178.8" y="91.6" text-anchor="end" textLength="15.3" lengthAdjust="spacingAndGlyphs" class="t">25N</text>
<line x1="181.6" y1="114.9" x2="184.0" y2="114.9" stroke="#2a2a2a" stroke-width="0.9"/>
<text x="178.8" y="118.6" text-anchor="end" textLength="15.3" lengthAdjust="spacingAndGlyphs" class="t">20N</text>
<line x1="181.6" y1="142.0" x2="184.0" y2="142.0" stroke="#2a2a2a" stroke-width="0.9"/>
<text x="178.8" y="145.7" text-anchor="end" textLength="15.3" lengthAdjust="spacingAndGlyphs" class="t">15N</text>
<line x1="181.6" y1="169.1" x2="184.0" y2="169.1" stroke="#2a2a2a" stroke-width="0.9"/>
<text x="178.8" y="172.8" text-anchor="end" textLength="15.3" lengthAdjust="spacingAndGlyphs" class="t">10N</text>
<line x1="393.4" y1="185.4" x2="393.4" y2="188.2" stroke="#2a2a2a" stroke-width="0.9"/>
<text x="393.3" y="198.9" text-anchor="middle" textLength="14.6" lengthAdjust="spacingAndGlyphs" class="t x">70E</text>
<line x1="413.6" y1="185.4" x2="413.6" y2="188.2" stroke="#2a2a2a" stroke-width="0.9"/>
<text x="413.5" y="198.9" text-anchor="middle" textLength="14.6" lengthAdjust="spacingAndGlyphs" class="t x">75E</text>
<line x1="433.7" y1="185.4" x2="433.7" y2="188.2" stroke="#2a2a2a" stroke-width="0.9"/>
<text x="433.6" y="198.9" text-anchor="middle" textLength="14.6" lengthAdjust="spacingAndGlyphs" class="t x">80E</text>
<line x1="453.8" y1="185.4" x2="453.8" y2="188.2" stroke="#2a2a2a" stroke-width="0.9"/>
<text x="453.7" y="198.9" text-anchor="middle" textLength="14.6" lengthAdjust="spacingAndGlyphs" class="t x">85E</text>
<line x1="474.0" y1="185.4" x2="474.0" y2="188.2" stroke="#2a2a2a" stroke-width="0.9"/>
<text x="473.9" y="198.9" text-anchor="middle" textLength="14.6" lengthAdjust="spacingAndGlyphs" class="t x">90E</text>
<line x1="494.1" y1="185.4" x2="494.1" y2="188.2" stroke="#2a2a2a" stroke-width="0.9"/>
<text x="494.0" y="198.9" text-anchor="middle" textLength="14.6" lengthAdjust="spacingAndGlyphs" class="t x">95E</text>
<line x1="370.4" y1="33.7" x2="372.8" y2="33.7" stroke="#2a2a2a" stroke-width="0.9"/>
<text x="367.6" y="37.4" text-anchor="end" textLength="15.3" lengthAdjust="spacingAndGlyphs" class="t">35N</text>
<line x1="370.4" y1="60.8" x2="372.8" y2="60.8" stroke="#2a2a2a" stroke-width="0.9"/>
<text x="367.6" y="64.5" text-anchor="end" textLength="15.3" lengthAdjust="spacingAndGlyphs" class="t">30N</text>
<line x1="370.4" y1="87.9" x2="372.8" y2="87.9" stroke="#2a2a2a" stroke-width="0.9"/>
<text x="367.6" y="91.6" text-anchor="end" textLength="15.3" lengthAdjust="spacingAndGlyphs" class="t">25N</text>
<line x1="370.4" y1="114.9" x2="372.8" y2="114.9" stroke="#2a2a2a" stroke-width="0.9"/>
<text x="367.6" y="118.6" text-anchor="end" textLength="15.3" lengthAdjust="spacingAndGlyphs" class="t">20N</text>
<line x1="370.4" y1="142.0" x2="372.8" y2="142.0" stroke="#2a2a2a" stroke-width="0.9"/>
<text x="367.6" y="145.7" text-anchor="end" textLength="15.3" lengthAdjust="spacingAndGlyphs" class="t">15N</text>
<line x1="370.4" y1="169.1" x2="372.8" y2="169.1" stroke="#2a2a2a" stroke-width="0.9"/>
<text x="367.6" y="172.8" text-anchor="end" textLength="15.3" lengthAdjust="spacingAndGlyphs" class="t">10N</text>
<line x1="45.1" y1="405.9" x2="45.1" y2="408.7" stroke="#2a2a2a" stroke-width="0.9"/>
<text x="45.0" y="419.4" text-anchor="middle" textLength="14.6" lengthAdjust="spacingAndGlyphs" class="t x">70E</text>
<line x1="65.2" y1="405.9" x2="65.2" y2="408.7" stroke="#2a2a2a" stroke-width="0.9"/>
<text x="65.1" y="419.4" text-anchor="middle" textLength="14.6" lengthAdjust="spacingAndGlyphs" class="t x">75E</text>
<line x1="85.3" y1="405.9" x2="85.3" y2="408.7" stroke="#2a2a2a" stroke-width="0.9"/>
<text x="85.2" y="419.4" text-anchor="middle" textLength="14.6" lengthAdjust="spacingAndGlyphs" class="t x">80E</text>
<line x1="105.4" y1="405.9" x2="105.4" y2="408.7" stroke="#2a2a2a" stroke-width="0.9"/>
<text x="105.3" y="419.4" text-anchor="middle" textLength="14.6" lengthAdjust="spacingAndGlyphs" class="t x">85E</text>
<line x1="125.4" y1="405.9" x2="125.4" y2="408.7" stroke="#2a2a2a" stroke-width="0.9"/>
<text x="125.3" y="419.4" text-anchor="middle" textLength="14.6" lengthAdjust="spacingAndGlyphs" class="t x">90E</text>
<line x1="145.5" y1="405.9" x2="145.5" y2="408.7" stroke="#2a2a2a" stroke-width="0.9"/>
<text x="145.4" y="419.4" text-anchor="middle" textLength="14.6" lengthAdjust="spacingAndGlyphs" class="t x">95E</text>
<line x1="22.1" y1="254.0" x2="24.5" y2="254.0" stroke="#2a2a2a" stroke-width="0.9"/>
<text x="19.3" y="257.7" text-anchor="end" textLength="15.3" lengthAdjust="spacingAndGlyphs" class="t">35N</text>
<line x1="22.1" y1="281.2" x2="24.5" y2="281.2" stroke="#2a2a2a" stroke-width="0.9"/>
<text x="19.3" y="284.9" text-anchor="end" textLength="15.3" lengthAdjust="spacingAndGlyphs" class="t">30N</text>
<line x1="22.1" y1="308.4" x2="24.5" y2="308.4" stroke="#2a2a2a" stroke-width="0.9"/>
<text x="19.3" y="312.1" text-anchor="end" textLength="15.3" lengthAdjust="spacingAndGlyphs" class="t">25N</text>
<line x1="22.1" y1="335.6" x2="24.5" y2="335.6" stroke="#2a2a2a" stroke-width="0.9"/>
<text x="19.3" y="339.3" text-anchor="end" textLength="15.3" lengthAdjust="spacingAndGlyphs" class="t">20N</text>
<line x1="22.1" y1="362.8" x2="24.5" y2="362.8" stroke="#2a2a2a" stroke-width="0.9"/>
<text x="19.3" y="366.5" text-anchor="end" textLength="15.3" lengthAdjust="spacingAndGlyphs" class="t">15N</text>
<line x1="22.1" y1="390.0" x2="24.5" y2="390.0" stroke="#2a2a2a" stroke-width="0.9"/>
<text x="19.3" y="393.7" text-anchor="end" textLength="15.3" lengthAdjust="spacingAndGlyphs" class="t">10N</text>
<line x1="204.7" y1="405.9" x2="204.7" y2="408.7" stroke="#2a2a2a" stroke-width="0.9"/>
<text x="204.6" y="419.4" text-anchor="middle" textLength="14.6" lengthAdjust="spacingAndGlyphs" class="t x">70E</text>
<line x1="224.9" y1="405.9" x2="224.9" y2="408.7" stroke="#2a2a2a" stroke-width="0.9"/>
<text x="224.8" y="419.4" text-anchor="middle" textLength="14.6" lengthAdjust="spacingAndGlyphs" class="t x">75E</text>
<line x1="245.0" y1="405.9" x2="245.0" y2="408.7" stroke="#2a2a2a" stroke-width="0.9"/>
<text x="244.9" y="419.4" text-anchor="middle" textLength="14.6" lengthAdjust="spacingAndGlyphs" class="t x">80E</text>
<line x1="265.2" y1="405.9" x2="265.2" y2="408.7" stroke="#2a2a2a" stroke-width="0.9"/>
<text x="265.1" y="419.4" text-anchor="middle" textLength="14.6" lengthAdjust="spacingAndGlyphs" class="t x">85E</text>
<line x1="285.4" y1="405.9" x2="285.4" y2="408.7" stroke="#2a2a2a" stroke-width="0.9"/>
<text x="285.3" y="419.4" text-anchor="middle" textLength="14.6" lengthAdjust="spacingAndGlyphs" class="t x">90E</text>
<line x1="305.6" y1="405.9" x2="305.6" y2="408.7" stroke="#2a2a2a" stroke-width="0.9"/>
<text x="305.5" y="419.4" text-anchor="middle" textLength="14.6" lengthAdjust="spacingAndGlyphs" class="t x">95E</text>
<line x1="181.6" y1="254.0" x2="184.0" y2="254.0" stroke="#2a2a2a" stroke-width="0.9"/>
<text x="178.8" y="257.7" text-anchor="end" textLength="15.3" lengthAdjust="spacingAndGlyphs" class="t">35N</text>
<line x1="181.6" y1="281.2" x2="184.0" y2="281.2" stroke="#2a2a2a" stroke-width="0.9"/>
<text x="178.8" y="284.9" text-anchor="end" textLength="15.3" lengthAdjust="spacingAndGlyphs" class="t">30N</text>
<line x1="181.6" y1="308.4" x2="184.0" y2="308.4" stroke="#2a2a2a" stroke-width="0.9"/>
<text x="178.8" y="312.1" text-anchor="end" textLength="15.3" lengthAdjust="spacingAndGlyphs" class="t">25N</text>
<line x1="181.6" y1="335.6" x2="184.0" y2="335.6" stroke="#2a2a2a" stroke-width="0.9"/>
<text x="178.8" y="339.3" text-anchor="end" textLength="15.3" lengthAdjust="spacingAndGlyphs" class="t">20N</text>
<line x1="181.6" y1="362.8" x2="184.0" y2="362.8" stroke="#2a2a2a" stroke-width="0.9"/>
<text x="178.8" y="366.5" text-anchor="end" textLength="15.3" lengthAdjust="spacingAndGlyphs" class="t">15N</text>
<line x1="181.6" y1="390.0" x2="184.0" y2="390.0" stroke="#2a2a2a" stroke-width="0.9"/>
<text x="178.8" y="393.7" text-anchor="end" textLength="15.3" lengthAdjust="spacingAndGlyphs" class="t">10N</text>
<line x1="393.4" y1="405.9" x2="393.4" y2="408.7" stroke="#2a2a2a" stroke-width="0.9"/>
<text x="393.3" y="419.4" text-anchor="middle" textLength="14.6" lengthAdjust="spacingAndGlyphs" class="t x">70E</text>
<line x1="413.6" y1="405.9" x2="413.6" y2="408.7" stroke="#2a2a2a" stroke-width="0.9"/>
<text x="413.5" y="419.4" text-anchor="middle" textLength="14.6" lengthAdjust="spacingAndGlyphs" class="t x">75E</text>
<line x1="433.7" y1="405.9" x2="433.7" y2="408.7" stroke="#2a2a2a" stroke-width="0.9"/>
<text x="433.6" y="419.4" text-anchor="middle" textLength="14.6" lengthAdjust="spacingAndGlyphs" class="t x">80E</text>
<line x1="453.8" y1="405.9" x2="453.8" y2="408.7" stroke="#2a2a2a" stroke-width="0.9"/>
<text x="453.7" y="419.4" text-anchor="middle" textLength="14.6" lengthAdjust="spacingAndGlyphs" class="t x">85E</text>
<line x1="474.0" y1="405.9" x2="474.0" y2="408.7" stroke="#2a2a2a" stroke-width="0.9"/>
<text x="473.9" y="419.4" text-anchor="middle" textLength="14.6" lengthAdjust="spacingAndGlyphs" class="t x">90E</text>
<line x1="494.1" y1="405.9" x2="494.1" y2="408.7" stroke="#2a2a2a" stroke-width="0.9"/>
<text x="494.0" y="419.4" text-anchor="middle" textLength="14.6" lengthAdjust="spacingAndGlyphs" class="t x">95E</text>
<line x1="370.4" y1="254.0" x2="372.8" y2="254.0" stroke="#2a2a2a" stroke-width="0.9"/>
<text x="367.6" y="257.7" text-anchor="end" textLength="15.3" lengthAdjust="spacingAndGlyphs" class="t">35N</text>
<line x1="370.4" y1="281.2" x2="372.8" y2="281.2" stroke="#2a2a2a" stroke-width="0.9"/>
<text x="367.6" y="284.9" text-anchor="end" textLength="15.3" lengthAdjust="spacingAndGlyphs" class="t">30N</text>
<line x1="370.4" y1="308.4" x2="372.8" y2="308.4" stroke="#2a2a2a" stroke-width="0.9"/>
<text x="367.6" y="312.1" text-anchor="end" textLength="15.3" lengthAdjust="spacingAndGlyphs" class="t">25N</text>
<line x1="370.4" y1="335.6" x2="372.8" y2="335.6" stroke="#2a2a2a" stroke-width="0.9"/>
<text x="367.6" y="339.3" text-anchor="end" textLength="15.3" lengthAdjust="spacingAndGlyphs" class="t">20N</text>
<line x1="370.4" y1="362.8" x2="372.8" y2="362.8" stroke="#2a2a2a" stroke-width="0.9"/>
<text x="367.6" y="366.5" text-anchor="end" textLength="15.3" lengthAdjust="spacingAndGlyphs" class="t">15N</text>
<line x1="370.4" y1="390.0" x2="372.8" y2="390.0" stroke="#2a2a2a" stroke-width="0.9"/>
<text x="367.6" y="393.7" text-anchor="end" textLength="15.3" lengthAdjust="spacingAndGlyphs" class="t">10N</text>
<text x="92.1" y="8.5" text-anchor="middle" textLength="76.0" lengthAdjust="spacingAndGlyphs" class="h">Present1(1951-1980)</text>
<text x="251.9" y="9.9" text-anchor="middle" textLength="72.4" lengthAdjust="spacingAndGlyphs" class="h">Future1(2051-2080)</text>
<text x="440.6" y="10.0" text-anchor="middle" textLength="60.3" lengthAdjust="spacingAndGlyphs" class="h">Future1-Present1</text>
<text x="92.1" y="230.7" text-anchor="middle" textLength="76.0" lengthAdjust="spacingAndGlyphs" class="h">Present2(1981-2010)</text>
<text x="251.9" y="230.7" text-anchor="middle" textLength="72.4" lengthAdjust="spacingAndGlyphs" class="h">Future2(2081-2110)</text>
<text x="440.6" y="230.7" text-anchor="middle" textLength="60.3" lengthAdjust="spacingAndGlyphs" class="h">Future2-Present2</text>
<polygon points="329.0,132.7 332.3,114.6 335.6,132.7" fill="#ff383c"/>
<rect x="329.0" y="132.7" width="6.6" height="18.7" fill="#ff8214"/>
<rect x="329.0" y="151.4" width="6.6" height="18.6" fill="#f8b012"/>
<rect x="329.0" y="170.0" width="6.6" height="18.5" fill="#ebdc00"/>
<rect x="329.0" y="188.5" width="6.6" height="18.5" fill="#78e600"/>
<rect x="329.0" y="207.0" width="6.6" height="18.5" fill="#00dc00"/>
<rect x="329.0" y="225.5" width="6.6" height="18.6" fill="#00d28c"/>
<rect x="329.0" y="244.1" width="6.6" height="18.6" fill="#00c8c8"/>
<polygon points="329.0,262.7 332.3,281.2 335.6,262.7" fill="#009af8"/>
<line x1="329.0" y1="132.7" x2="335.6" y2="132.7" stroke="#555" stroke-width="0.5" opacity="0.6"/>
<text x="337.7" y="135.5" class="s">4</text>
<line x1="329.0" y1="151.4" x2="335.6" y2="151.4" stroke="#555" stroke-width="0.5" opacity="0.6"/>
<text x="337.7" y="154.2" class="s" textLength="9.4" lengthAdjust="spacingAndGlyphs">3.5</text>
<line x1="329.0" y1="170.0" x2="335.6" y2="170.0" stroke="#555" stroke-width="0.5" opacity="0.6"/>
<text x="337.7" y="172.8" class="s">3</text>
<line x1="329.0" y1="188.5" x2="335.6" y2="188.5" stroke="#555" stroke-width="0.5" opacity="0.6"/>
<text x="337.7" y="191.3" class="s" textLength="9.4" lengthAdjust="spacingAndGlyphs">2.5</text>
<line x1="329.0" y1="207.0" x2="335.6" y2="207.0" stroke="#555" stroke-width="0.5" opacity="0.6"/>
<text x="337.7" y="209.8" class="s">2</text>
<line x1="329.0" y1="225.5" x2="335.6" y2="225.5" stroke="#555" stroke-width="0.5" opacity="0.6"/>
<text x="337.7" y="228.3" class="s" textLength="9.4" lengthAdjust="spacingAndGlyphs">1.5</text>
<line x1="329.0" y1="244.1" x2="335.6" y2="244.1" stroke="#555" stroke-width="0.5" opacity="0.6"/>
<text x="337.7" y="246.9" class="s">1</text>
<line x1="329.0" y1="262.7" x2="335.6" y2="262.7" stroke="#555" stroke-width="0.5" opacity="0.6"/>
<text x="337.7" y="265.6" class="s" textLength="9.4" lengthAdjust="spacingAndGlyphs">0.5</text>
<polygon points="526.8,162.2 530.5,132.8 534.2,162.2" fill="#ff0000"/>
<rect x="526.8" y="162.2" width="7.4" height="29.9" fill="#ff3737"/>
<rect x="526.8" y="192.1" width="7.4" height="29.7" fill="#ff6e6e"/>
<rect x="526.8" y="221.8" width="7.4" height="29.8" fill="#ffa5a5"/>
<polygon points="526.8,251.6 530.5,281.0 534.2,251.6" fill="#ffdcdc"/>
<path d="M526.8,162.2 L530.5,132.8 L534.2,162.2 L534.2,251.6 L530.5,281.0 L526.8,251.6 Z" fill="none" stroke="#333" stroke-width="0.6"/>
<line x1="526.8" y1="162.2" x2="535.4" y2="162.2" stroke="#222" stroke-width="0.7"/>
<text x="536.3" y="166.0" class="r" textLength="4.2" lengthAdjust="spacingAndGlyphs">1</text>
<line x1="526.8" y1="192.1" x2="535.4" y2="192.1" stroke="#222" stroke-width="0.7"/>
<text x="536.3" y="195.9" class="r" textLength="10.8" lengthAdjust="spacingAndGlyphs">0.8</text>
<line x1="526.8" y1="221.8" x2="535.4" y2="221.8" stroke="#222" stroke-width="0.7"/>
<text x="536.3" y="225.6" class="r" textLength="10.8" lengthAdjust="spacingAndGlyphs">0.6</text>
<line x1="526.8" y1="251.6" x2="535.4" y2="251.6" stroke="#222" stroke-width="0.7"/>
<text x="536.3" y="255.4" class="r" textLength="10.8" lengthAdjust="spacingAndGlyphs">0.5</text>
</svg>
</body></html>
